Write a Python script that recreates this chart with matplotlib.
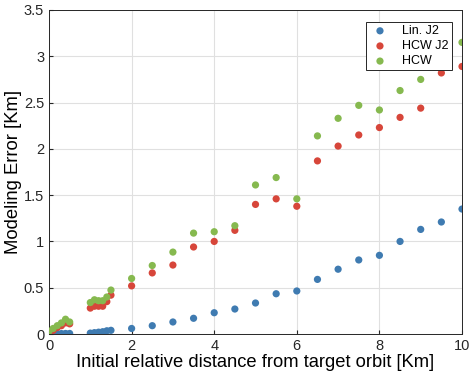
import matplotlib
matplotlib.use("Agg")
import matplotlib.pyplot as plt
import numpy as np

# ─── Data ────────────────────────────────────────────────────────────────────
distance = [0.0, 0.1, 0.2, 0.3, 0.4, 0.5,
            1.0, 1.1, 1.2, 1.3, 1.4, 1.5,
            2.0, 2.5, 3.0, 3.5, 4.0, 4.5, 5.0, 5.5, 6.0,
            6.5, 7.0, 7.5, 8.0, 8.5, 9.0, 9.5, 10.0]

lin_j2 = [0.003, 0.004, 0.005, 0.005, 0.006, 0.006,
          0.01, 0.015, 0.02, 0.025, 0.035, 0.04,
          0.06, 0.09, 0.13, 0.17, 0.23, 0.27, 0.335, 0.435, 0.465,
          0.59, 0.70, 0.80, 0.85, 1.0, 1.13, 1.21, 1.35]

hcw_j2 = [0.02, 0.04, 0.07, 0.09, 0.12, 0.11,
          0.28, 0.30, 0.30, 0.30, 0.35, 0.42,
          0.52, 0.66, 0.745, 0.94, 1.0, 1.12, 1.40, 1.46, 1.38,
          1.87, 2.03, 2.15, 2.23, 2.34, 2.44, 2.82, 2.89]

hcw = [0.03, 0.06, 0.09, 0.12, 0.16, 0.13,
       0.34, 0.37, 0.36, 0.36, 0.40, 0.475,
       0.60, 0.74, 0.885, 1.09, 1.105, 1.17, 1.61, 1.69, 1.46,
       2.14, 2.33, 2.47, 2.42, 2.63, 2.75, 2.96, 3.15]

labels = ["Lin. J2", "HCW J2", "HCW"]
colors = ["#3f7bb1", "#d7463a", "#86b94f"]

plt.rcParams["font.family"] = ["Liberation Sans", "DejaVu Sans"]

fig = plt.figure(figsize=(4.74, 3.77), dpi=100)
ax = fig.add_axes([0.1034, 0.114, 0.8713, 0.8595])

for series, label, color in zip([lin_j2, hcw_j2, hcw], labels, colors):
    ax.scatter(distance, series, s=27, color=color, label=label,
               edgecolors="none", zorder=3)

ax.set_xlim(0, 10)
ax.set_ylim(0, 3.5)
ax.set_xticks([0, 2, 4, 6, 8, 10])
ax.set_yticks(np.arange(0, 3.51, 0.5))
ax.set_yticklabels(["0", "0.5", "1", "1.5", "2", "2.5", "3", "3.5"])
ax.tick_params(direction="in", labelsize=10.5, colors="#262626", length=3)
ax.grid(True, color="#e0e0e0", linewidth=0.8)
ax.set_axisbelow(True)
for sp in ax.spines.values():
    sp.set_color("#262626")
    sp.set_linewidth(0.7)

ax.set_xlabel("Initial relative distance from target orbit [Km]", fontsize=13.2, labelpad=1)
ax.set_ylabel("Modeling Error [Km]", fontsize=13.3, labelpad=1)

leg = ax.legend(loc="upper right", bbox_to_anchor=(0.976, 0.963), fontsize=9,
                frameon=True, fancybox=False, edgecolor="#262626",
                framealpha=1, borderpad=0.25, borderaxespad=0,
                handletextpad=0.9, labelspacing=0.25, handlelength=1.8)
leg.get_frame().set_linewidth(0.7)
leg.set_zorder(5)

fig.savefig("out.png", dpi=100)
